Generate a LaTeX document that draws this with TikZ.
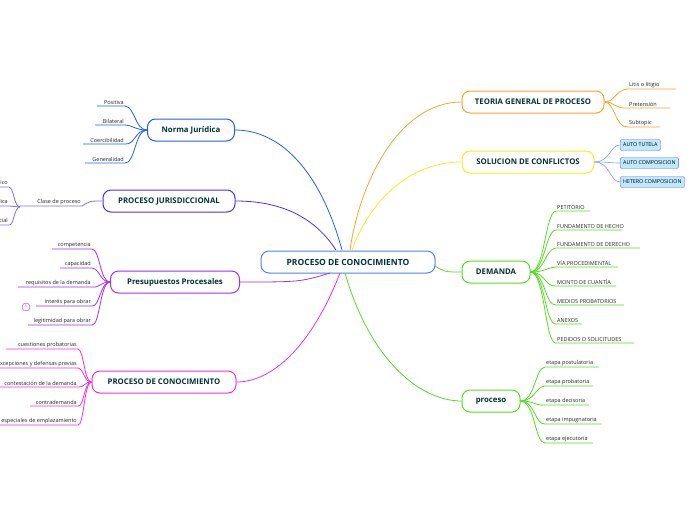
\documentclass[tikz,border=0pt]{standalone}
\usepackage{fontspec}
\setmainfont{Open Sans}
\begin{document}
\begin{tikzpicture}[x=1pt,y=-1pt,
  main/.style={draw=#1,line width=1pt,rounded corners=8pt,fill=white,minimum height=22pt,inner xsep=10pt,font=\fontsize{7.8}{8}\selectfont\bfseries,text=teal!40!black},
  sub/.style={font=\fontsize{5.5}{6}\selectfont,text=black!85,inner sep=1pt},
  bl/.style={draw=blue!60,rounded corners=2pt,fill=blue!35!cyan!25,font=\fontsize{5.3}{6}\selectfont,minimum height=11pt,inner xsep=3pt},
  ln/.style={draw=#1,line width=0.8pt}]
\useasboundingbox (0,0) rectangle (696,520);
\clip (0,0) rectangle (696,520);
\definecolor{cOr}{HTML}{F7A530}\definecolor{cYe}{HTML}{F2EE20}\definecolor{cGr}{HTML}{55DD22}
\definecolor{cBl}{HTML}{2060F0}\definecolor{cIn}{HTML}{4A30EE}\definecolor{cPu}{HTML}{A030EE}\definecolor{cMa}{HTML}{EE30DD}
% center
\node[main=cBl!80,minimum width=174pt,font=\fontsize{8.5}{9}\selectfont\bfseries] (c) at (348,262) {PROCESO DE CONOCIMIENTO};
\node[main=cOr,minimum width=142pt] (t) at (533,102) {TEORIA GENERAL DE PROCESO};
\node[main=cYe,minimum width=132pt] (s) at (528,162) {SOLUCION DE CONFLICTOS};
\node[main=cGr,minimum width=68pt] (d) at (496,272) {DEMANDA};
\node[main=cGr,minimum width=58pt] (p) at (491,401) {proceso};
\node[main=cBl,minimum width=87pt] (n) at (191,130) {Norma Jurídica};
\node[main=cIn,minimum width=132pt] (j) at (169,201) {PROCESO JURISDICCIONAL};
\node[main=cPu,minimum width=129pt] (pp) at (175,282) {Presupuestos Procesales};
\node[main=cMa,minimum width=144pt] (k) at (164,382) {PROCESO DE CONOCIMIENTO};
% center connectors
\draw[ln=cOr] (350,250) .. controls (360,180) and (400,102) .. (t.west);
\draw[ln=cYe] (352,250) .. controls (370,200) and (410,162) .. (s.west);
\draw[ln=cGr] (435,266) .. controls (445,272) .. (d.west);
\draw[ln=cGr] (345,273) .. controls (370,360) and (420,401) .. (p.west);
\draw[ln=cBl] (342,250) .. controls (320,170) and (280,130) .. (n.east);
\draw[ln=cIn] (336,250) .. controls (310,210) and (270,201) .. (j.east);
\draw[ln=cPu] (330,273) .. controls (300,282) .. (pp.east);
\draw[ln=cMa] (340,273) .. controls (310,350) and (270,382) .. (k.east);
% teoria
\foreach \i/\y/\tx/\w in {1/83/Litis o litigio/48,2/102/Pretensión/42,3/121/Subtopic/32}{
  \node[sub,anchor=south west] (t\i) at (628,\y+6) {\tx};
  \draw[ln=cOr] (t.east) .. controls (615,102) and (615,\y+7) .. (t\i.south west) -- ++(\w,0);}
% soluciones
\foreach \i/\y/\tx in {1/145/AUTO TUTELA,2/163/AUTO COMPOSICION,3/182/HETERO COMPOSICION}{
  \node[bl,anchor=west] (s\i) at (620,\y) {\tx};
  \draw[draw=cBl!60,line width=0.6pt] (s.east) .. controls (610,162) and (610,\y) .. (s\i.west);}
% demanda
\foreach \i/\y/\tx/\w in {1/206/PETITORIO/34,2/225/FUNDAMENTO DE HECHO/66,3/243/FUNDAMENTO DE DERECHO/84,4/262/VÍA PROCEDIMENTAL/62,5/281/MONTO DE CUANTÍA/60,6/300/MEDIOS PROBATORIOS/68,7/319/ANEXOS/26,8/338/PEDIDOS O SOLICITUDES/78}{
  \node[sub,anchor=south west] (d\i) at (556,\y+5) {\tx};
  \draw[ln=cGr] (d.east) .. controls (545,272) and (545,\y+6) .. (d\i.south west) -- ++(\w,0);}
% proceso
\foreach \i/\y/\tx/\w in {1/362/etapa postulatoria/54,2/381/etapa probatoria/48,3/400/etapa decisoria/44,4/419/etapa impugnatoria/56,5/438/etapa ejecutoria/48}{
  \node[sub,anchor=south west] (p\i) at (545,\y+5) {\tx};
  \draw[ln=cGr] (p.east) .. controls (535,401) and (535,\y+6) .. (p\i.south west) -- ++(\w,0);}
% norma
\foreach \i/\y/\tx/\w in {1/101/Positiva/28,2/120/Bilateral/30,3/139/Coercibilidad/42,4/158/Generalidad/40}{
  \node[sub,anchor=south east] (n\i) at (125,\y+5) {\tx};
  \draw[ln=cBl] (n.west) .. controls (135,130) and (135,\y+6) .. (n\i.south east) -- ++(-\w,0);}
% jurisdiccional
\node[sub,anchor=south east] (j0) at (82,206) {Clase de proceso};
\draw[ln=cIn!70] (j.west) .. controls (90,201) .. (j0.south east) -- ++(-62,0);
\foreach \i/\y/\tx in {1/182/Jurídico,2/201/Jurídica,3/220/Judicial}{
  \node[sub,anchor=south east] (j\i) at (9,\y+5) {\tx};
  \draw[ln=cIn!70] (20,207) .. controls (14,207) and (14,\y+6) .. (j\i.south east) -- ++(-12,0);}
% presupuestos
\foreach \i/\y/\tx/\w in {1/244/competencia/40,2/263/capacidad/32,3/282/requisitos de la demanda/74,4/301/interés para obrar/56,5/320/legitimidad para obrar/64}{
  \node[sub,anchor=south east] (pp\i) at (92,\y+5) {\tx};
  \draw[ln=cPu] (pp.west) .. controls (100,282) and (100,\y+6) .. (pp\i.south east) -- ++(-\w,0);}
\node[draw=cPu,circle,inner sep=0pt,minimum size=8pt,font=\fontsize{5}{5}\selectfont,text=cPu] (one) at (26,307) {1};
% conocimiento
\foreach \i/\y/\tx/\w in {1/344/cuestiones probatorias/72,2/363/excepciones y defensas previas/80,3/382/contestación de la demanda/78,4/401/contrademanda/48,5/420/especiales de emplazamiento/80}{
  \node[sub,anchor=south east] (k\i) at (78,\y+5) {\tx};
  \draw[ln=cMa] (k.west) .. controls (84,382) and (84,\y+6) .. (k\i.south east) -- ++(-\w,0);}
\end{tikzpicture}
\end{document}
